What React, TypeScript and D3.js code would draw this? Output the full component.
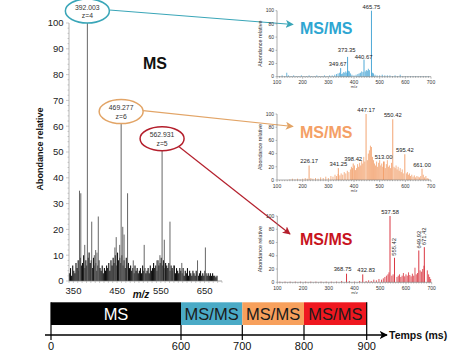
import React from 'react';
import * as d3 from 'd3';

const FONT = '"Liberation Sans", Arial, Helvetica, sans-serif';

// ---------- Main MS spectrum ----------
const msXTicks = [350, 450, 550, 650];
const msYTicks = [0, 10, 20, 30, 40, 50, 60, 70, 80, 90, 100];
const calloutMz = [392.003, 469.277, 562.931];
const calloutZ = [4, 6, 5];
const calloutH = [100, 61, 50.5];
const msPeaks: [number, number][] = [
  [374, 35], [377, 34], [386, 14], [392.003, 100], [402, 23], [408, 10], [411, 12], [414, 11], [417, 25],
  [455, 13], [458, 17], [466, 14], [469.277, 61], [473, 21], [476, 18], [484, 34], [497, 8], [522, 14],
  [551, 8], [558, 10], [562.931, 50.5], [568, 16], [581, 23], [589, 6], [608, 7], [644, 8], [662, 13],
];
const msNoise: [number, number][] = [
  [351, 3], [353.5, 5], [356, 2], [358.5, 6], [361, 4], [363.5, 3], [366, 7], [368.5, 5], [371, 8], [373.5, 4],
  [376, 9], [378.5, 6], [381, 7], [383.5, 10], [386, 5], [388.5, 8], [391, 6], [393.5, 9], [396, 11], [398.5, 7],
  [401, 8], [403.5, 5], [406, 9], [408.5, 6], [411, 7], [413.5, 4], [416, 6], [418.5, 8], [421, 5], [423.5, 4],
  [426, 6], [428.5, 3], [431, 5], [433.5, 4], [436, 6], [438.5, 5], [441, 7], [443.5, 4], [446, 8], [448.5, 6],
  [451, 9], [453.5, 7], [456, 10], [458.5, 6], [461, 11], [463.5, 8], [466, 9], [468.5, 7], [471, 10], [473.5, 6],
  [476, 8], [478.5, 5], [481, 9], [483.5, 6], [486, 7], [488.5, 5], [491, 6], [493.5, 4], [496, 5], [498.5, 3],
  [501, 6], [503.5, 4], [506, 5], [508.5, 3], [511, 4], [513.5, 5], [516, 3], [518.5, 6], [521, 4], [523.5, 5],
  [526, 3], [528.5, 4], [531, 5], [533.5, 3], [536, 6], [538.5, 4], [541, 5], [543.5, 7], [546, 5], [548.5, 6],
  [551, 4], [553.5, 8], [556, 6], [558.5, 7], [561, 9], [563.5, 6], [566, 8], [568.5, 5], [571, 7], [573.5, 6],
  [576, 5], [578.5, 7], [581, 4], [583.5, 6], [586, 5], [588.5, 4], [591, 6], [593.5, 3], [596, 5], [598.5, 4],
  [601, 3], [603.5, 5], [606, 4], [608.5, 3], [611, 5], [613.5, 2], [616, 4], [618.5, 3], [621, 5], [623.5, 2],
  [626, 4], [628.5, 3], [631, 2], [633.5, 4], [636, 3], [638.5, 2], [641, 4], [643.5, 3], [646, 2], [648.5, 3],
  [651, 4], [653.5, 2], [656, 3], [658.5, 2], [661, 4], [663.5, 3], [666, 2], [668.5, 3], [671, 2], [673.5, 3],
  [676, 2], [678.5, 3], [681, 2], [683.5, 2], [686, 1.5], [688.5, 2],
];

// ---------- MS/MS insets ----------
const insetXTicks = [100, 200, 300, 400, 500, 600, 700];
const insetYTicks = [0, 20, 40, 60, 80, 100];

const blueLabeled: [number, number, string][] = [
  [348, 13, '349.67'], [375, 30, '373.35'], [439, 26, '440.67'], [468, 100, '465.75'],
];
const blueNoise: [number, number][] = [
  [110, 1], [120, 2], [130, 1], [138, 6], [145, 2], [155, 1], [165, 2], [175, 1], [185, 1], [195, 2], [205, 1],
  [215, 1], [225, 2], [235, 1], [245, 1], [255, 2], [265, 1], [275, 1], [285, 2], [295, 1], [305, 2], [315, 2],
  [325, 3], [332, 4], [338, 5], [344, 6], [352, 4], [356, 5], [360, 7], [364, 6], [368, 8], [372, 6], [378, 9],
  [382, 8], [386, 5], [392, 3], [400, 2], [408, 3], [415, 4], [420, 5], [425, 6], [430, 8], [435, 7], [444, 8],
  [448, 10], [452, 9], [456, 12], [460, 10], [472, 6], [476, 5], [482, 3], [490, 2], [500, 2], [510, 3], [520, 2],
  [530, 2], [540, 2], [550, 1], [560, 2], [570, 1], [580, 3], [590, 1], [600, 1], [610, 1], [620, 1], [630, 1],
  [640, 1], [650, 1], [660, 1], [670, 1], [680, 1], [690, 1],
];

const orangeLabeled: [number, number, string][] = [
  [225, 22, '226.17'], [339, 18, '341.25'], [397, 25, '398.42'], [447, 100, '447.17'], [515, 28, '513.00'],
  [551, 92, '550.42'], [598, 39, '595.42'], [665, 17, '661.00'],
];
const orangeNoise: [number, number][] = [
  [150, 1], [160, 2], [170, 1], [180, 2], [190, 1], [200, 2], [210, 3], [218, 2], [232, 3], [240, 2], [250, 3],
  [260, 2], [270, 4], [280, 3], [290, 5], [300, 3], [310, 6], [318, 5], [326, 8], [332, 6], [338, 9], [345, 7],
  [350, 10], [356, 8], [362, 12], [368, 10], [374, 14], [380, 12], [386, 16], [390, 20], [394, 18], [402, 22],
  [406, 15], [410, 18], [414, 24], [418, 20], [422, 26], [426, 22], [430, 30], [434, 25], [438, 35], [442, 28],
  [452, 30], [456, 40], [460, 45], [464, 52], [468, 50], [472, 35], [476, 30], [480, 25], [484, 22], [488, 28],
  [492, 20], [496, 26], [500, 30], [504, 22], [508, 25], [512, 20], [518, 28], [522, 18], [526, 24], [530, 30],
  [534, 20], [538, 22], [542, 18], [546, 26], [556, 20], [560, 18], [564, 22], [568, 16], [572, 20], [576, 14],
  [580, 18], [584, 12], [588, 16], [592, 10], [604, 10], [608, 12], [612, 8], [616, 10], [620, 6], [625, 8],
  [630, 5], [635, 7], [640, 4], [645, 6], [650, 5], [655, 4], [660, 6], [670, 8], [675, 4], [680, 6], [685, 3],
  [690, 2],
];

const redLabeled: [number, number, string][] = [
  [369, 13, '368.75'], [432, 12, '432.83'], [538, 100, '537.58'],
];
const redRotLabeled: [number, number, string][] = [
  [555.4, 37, '555.42'], [649.9, 48, '649.92'], [671.4, 53, '671.42'],
];
const redNoise: [number, number][] = [
  [110, 1], [130, 1], [150, 1], [170, 1], [190, 1], [210, 1], [230, 1], [250, 1], [270, 1], [290, 1], [310, 1],
  [330, 1], [350, 2], [380, 2], [400, 1], [420, 2], [445, 2], [455, 3], [465, 2], [475, 4], [485, 3], [495, 5],
  [505, 4], [512, 6], [518, 8], [524, 10], [530, 12], [534, 15], [545, 10], [550, 12], [565, 8], [570, 10],
  [575, 12], [580, 8], [585, 10], [590, 14], [595, 9], [600, 12], [605, 10], [610, 15], [615, 11], [620, 9],
  [625, 13], [630, 10], [635, 22], [640, 12], [645, 14], [655, 18], [660, 16], [665, 20], [670, 25], [683, 18],
  [688, 12], [692, 8], [696, 5],
];

// ---------- Timeline ----------
const timeTicks = [0, 600, 700, 800, 900];
const timeSegments = ['MS', 'MS/MS', 'MS/MS', 'MS/MS'];

const TEAL = '#3aa6b8';
const ORANGE = '#e2a466';
const DARKRED = '#b41f2c';

function Inset(props: {
  top: number; bottom: number; left: number; right: number;
  color: string; noise: [number, number][]; labeled: [number, number, string][];
  rot?: [number, number, string][]; labelDx?: number[]; labelDy?: number[];
}) {
  const { top, bottom, left, right, color, noise, labeled, rot, labelDx, labelDy } = props;
  const x = d3.scaleLinear().domain([100, 700]).range([left, right]);
  const y = d3.scaleLinear().domain([0, 100]).range([bottom, top]);
  const minor = d3.range(100, 701, 10);
  return (
    <g>
      {noise.map(([m, h], i) => (
        <line key={'n' + i} x1={x(m)} x2={x(m)} y1={y(0)} y2={y(h)} stroke={color} strokeWidth={1} opacity={0.75} />
      ))}
      {labeled.map(([m, h], i) => (
        <line key={'p' + i} x1={x(m)} x2={x(m)} y1={y(0)} y2={y(h)} stroke={color} strokeWidth={0.9} />
      ))}
      {(rot || []).map(([m, h], i) => (
        <line key={'r' + i} x1={x(m)} x2={x(m)} y1={y(0)} y2={y(h)} stroke={color} strokeWidth={0.9} />
      ))}
      <line x1={left} x2={left} y1={y(0)} y2={y(100)} stroke="#777" strokeWidth={0.6} />
      <line x1={left} x2={right} y1={y(0)} y2={y(0)} stroke="#777" strokeWidth={0.6} />
      {minor.map((m) => (
        <line key={'mt' + m} x1={x(m)} x2={x(m)} y1={y(0)} y2={y(0) + (m % 100 === 0 ? 2 : 1.2)} stroke="#777" strokeWidth={0.5} />
      ))}
      {insetYTicks.map((t) => (
        <g key={'yt' + t}>
          <line x1={left - 1.5} x2={left} y1={y(t)} y2={y(t)} stroke="#777" strokeWidth={0.5} />
          <text x={left - 3} y={y(t) + 1.7} fontSize={5} textAnchor="end" fill="#333">{t}</text>
        </g>
      ))}
      {insetXTicks.map((t) => (
        <text key={'xt' + t} x={x(t)} y={y(0) + 7.5} fontSize={5} textAnchor="middle" fill="#333">{t}</text>
      ))}
      <text x={x(400)} y={y(0) + 11.5} fontSize={4.2} textAnchor="middle" fill="#444">m/z</text>
      <text transform={`translate(${left - 15.5},${(y(0) + y(100)) / 2}) rotate(-90)`} fontSize={5.4} textAnchor="middle" fill="#333">Abondance relative</text>
      {labeled.map(([m, h, s], i) => (
        <text key={'l' + i} x={x(m) + (labelDx ? labelDx[i] : 0)} y={y(h) - 2.2 + (labelDy ? labelDy[i] : 0)} fontSize={5.8} textAnchor="middle" fill="#222">{s}</text>
      ))}
      {(rot || []).map(([m, h, s], i) => (
        <text key={'rl' + i} transform={`translate(${x(m) + 2},${y(h) - 2}) rotate(-90)`} fontSize={5.8} textAnchor="start" fill="#222">{s}</text>
      ))}
    </g>
  );
}

export default function App() {
  const x = d3.scaleLinear().domain([350, 700]).range([69, 222]);
  const y = d3.scaleLinear().domain([0, 100]).range([281, 23]);
  const tx = d3.scaleLinear().domain([0, 600, 700, 800, 900]).range([51, 181, 242.3, 304, 366.7]);
  const segColors = ['#000000', '#4aaac6', '#f7a05c', '#ef1820'];
  const segText = ['#ffffff', '#1a1a1a', '#1a1a1a', '#1a1a1a'];
  const ellColors = [TEAL, ORANGE, DARKRED];
  const rx = 22;
  const ry = 12;
  const ells = calloutMz.map((m, i) => ({ cx: x(m), cy: y(calloutH[i]) - ry }));
  const ms2Colors = ['#2ea6d2', '#f4a066', '#c8141e'];
  const ms2Base = [33.5, 138, 245];
  const arrowTips: [number, number][] = [[293, 24.5], [293, 126.5], [290, 234]];
  const arrowStarts: [number, number][] = [
    [ells[0].cx + rx, ells[0].cy - 1],
    [ells[1].cx + rx, ells[1].cy - 1],
    [ells[2].cx + 17, ells[2].cy + 8],
  ];
  const yMinor = d3.range(0, 101, 2);
  const xMinor = d3.range(350, 701, 10);

  return (
    <svg width={474} height={355} style={{ position: 'absolute', left: 0, top: 0, background: '#fff' }} fontFamily={FONT}>
      <defs>
        {ellColors.map((c, i) => (
          <marker key={i} id={'arr' + i} viewBox="0 0 10 10" refX={9} refY={5} markerWidth={8} markerHeight={8} markerUnits="userSpaceOnUse" orient="auto">
            <path d="M0,0 L10,5 L0,10 L2.5,5 z" fill={c} />
          </marker>
        ))}
        <marker id="arrK" viewBox="0 0 10 10" refX={9} refY={5} markerWidth={8} markerHeight={8} markerUnits="userSpaceOnUse" orient="auto">
          <path d="M0,0 L10,5 L0,10 L2.5,5 z" fill="#000" />
        </marker>
      </defs>

      {/* Main spectrum */}
      {msNoise.map(([m, h], i) => (
        <line key={'mn' + i} x1={x(m)} x2={x(m)} y1={y(0)} y2={y(h)} stroke="#111" strokeWidth={1.1} />
      ))}
      {msPeaks.map(([m, h], i) => (
        <line key={'mp' + i} x1={x(m)} x2={x(m)} y1={y(0)} y2={y(h)} stroke="#666" strokeWidth={1} />
      ))}
      <line x1={69} x2={69} y1={y(0)} y2={y(100)} stroke="#999" strokeWidth={0.7} />
      <line x1={69} x2={222} y1={y(0)} y2={y(0)} stroke="#777" strokeWidth={0.7} />
      {yMinor.map((t) => (
        <line key={'ym' + t} x1={t % 10 === 0 ? 66 : 67.5} x2={69} y1={y(t)} y2={y(t)} stroke="#999" strokeWidth={0.5} />
      ))}
      {xMinor.map((t) => (
        <line key={'xm' + t} x1={x(t)} x2={x(t)} y1={y(0)} y2={y(0) + 2} stroke="#999" strokeWidth={0.5} />
      ))}
      {msYTicks.map((t) => (
        <text key={'yl' + t} x={63.5} y={y(t) + 3.4} fontSize={9.5} textAnchor="end" fill="#222">{t}</text>
      ))}
      {msXTicks.map((t) => (
        <text key={'xl' + t} x={x(t) + 4.5} y={293.5} fontSize={9.5} textAnchor="middle" fill="#222">{t}</text>
      ))}
      <text x={141} y={297.5} fontSize={10} fontWeight="bold" fontStyle="italic" textAnchor="middle" fill="#111">m/z</text>
      <text transform="translate(43,149) rotate(-90)" fontSize={9} fontWeight="bold" textAnchor="middle" fill="#111">Abondance relative</text>
      <text x={155} y={68.5} fontSize={16} fontWeight="bold" textAnchor="middle" fill="#111">MS</text>

      {/* Callouts */}
      {ells.map((e, i) => (
        <g key={'el' + i}>
          <line x1={arrowStarts[i][0]} y1={arrowStarts[i][1]} x2={arrowTips[i][0]} y2={arrowTips[i][1]} stroke={ellColors[i]} strokeWidth={1.2} markerEnd={`url(#arr${i})`} />
          <ellipse cx={e.cx} cy={e.cy} rx={rx} ry={ry} fill="#fff" stroke={ellColors[i]} strokeWidth={1.5} />
          <text x={e.cx} y={e.cy - 1.5} fontSize={6.8} textAnchor="middle" fill="#333">{calloutMz[i].toFixed(3)}</text>
          <text x={e.cx} y={e.cy + 7} fontSize={6.8} textAnchor="middle" fill="#333">{`z=${calloutZ[i]}`}</text>
        </g>
      ))}

      {/* Insets */}
      <Inset top={10.7} bottom={76.7} left={277} right={431} color="#3a9fd2" noise={blueNoise} labeled={blueLabeled} labelDx={[-3, -1, -0.5, 0]} labelDy={[0, -2.7, 1.5, 0]} />
      <Inset top={114} bottom={180} left={277} right={431} color="#f29a62" noise={orangeNoise} labeled={orangeLabeled} />
      <Inset top={216} bottom={282.3} left={277.3} right={431.7} color="#d6202c" noise={redNoise} labeled={redLabeled} rot={redRotLabeled} labelDx={[-4, 3.5, 0]} />

      {ms2Colors.map((c, i) => (
        <text key={'ms2' + i} x={300} y={ms2Base[i]} fontSize={16} fontWeight="bold" fill={c}>MS/MS</text>
      ))}

      {/* Timeline */}
      {timeSegments.map((s, i) => (
        <g key={'seg' + i}>
          <rect x={tx(timeTicks[i])} y={302.3} width={tx(timeTicks[i + 1]) - tx(timeTicks[i])} height={22.7} fill={segColors[i]} />
          <text x={(tx(timeTicks[i]) + tx(timeTicks[i + 1])) / 2} y={319.8} fontSize={16.5} textAnchor="middle" fill={segText[i]}>{s}</text>
        </g>
      ))}
      <line x1={45} x2={387} y1={335} y2={335} stroke="#000" strokeWidth={1.3} markerEnd="url(#arrK)" />
      {timeTicks.map((t, i) => (
        <g key={'tt' + t}>
          <line x1={tx(t)} x2={tx(t)} y1={i === 0 || i === timeTicks.length - 1 ? 302.3 : 325} y2={340} stroke="#000" strokeWidth={1.2} />
          <text x={tx(t)} y={350} fontSize={11} textAnchor="middle" fill="#111">{t}</text>
        </g>
      ))}
      <text x={389} y={338.5} fontSize={10.5} fontWeight="bold" fill="#111">Temps (ms)</text>
    </svg>
  );
}
